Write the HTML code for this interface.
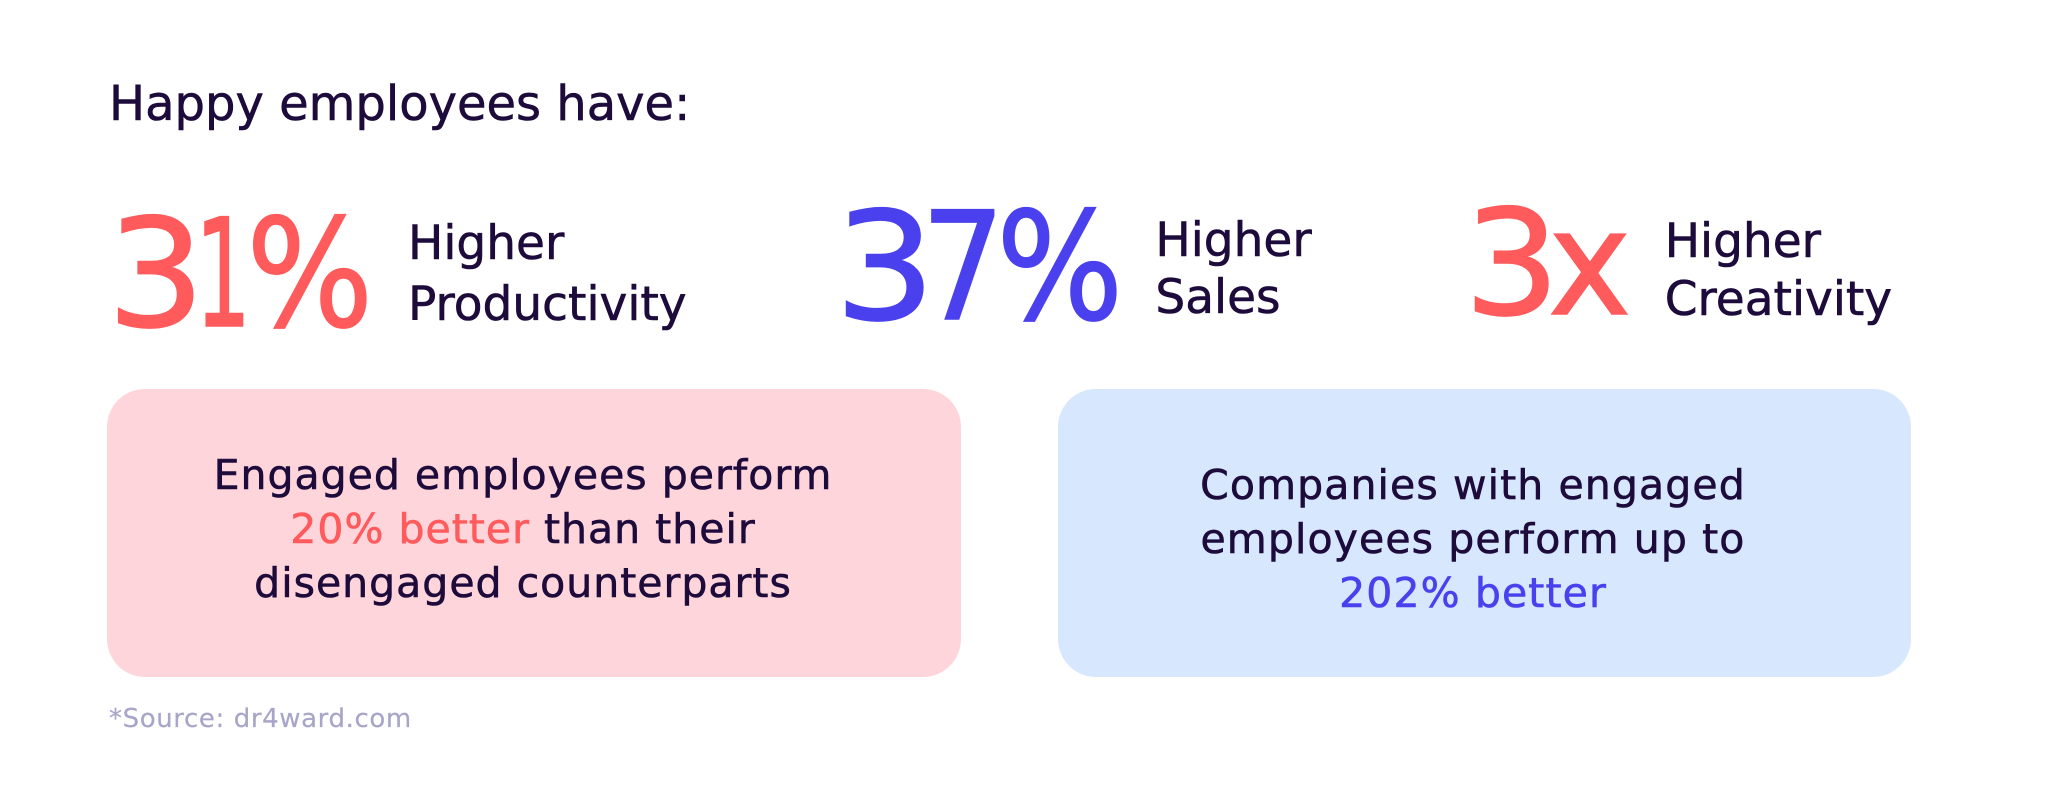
<!DOCTYPE html>
<html>
<head>
<meta charset="utf-8">
<style>
  html, body { margin: 0; padding: 0; }
  body { width: 2048px; height: 786px; background: #ffffff; position: relative; overflow: hidden; }
  .t { position: absolute; white-space: nowrap; color: #1d0b3b; font-family: "DejaVu Sans", "Liberation Sans", sans-serif; -webkit-text-stroke: 0.6px currentColor; }
  .red { color: #ff5a5c; }
  .blue { color: #4a40ee; }
  .box { position: absolute; border-radius: 38px; }
  .center { text-align: center; width: 1000px; }
  svg.big { position: absolute; left: 0; top: 0; }
  svg.big text { font-family: "DejaVu Sans", "Liberation Sans", sans-serif; }
</style>
</head>
<body>

<div class="t" style="left:109px; top:75px; font-size:48px; line-height:58px;">Happy employees have:</div>

<svg class="big" width="2048" height="786" viewBox="0 0 2048 786" xmlns="http://www.w3.org/2000/svg">
  <!-- 31% -->
  <g fill="#ff5a5c" stroke="#ff5a5c" stroke-width="1.5" font-size="150">
    <text x="107" y="326" textLength="98" lengthAdjust="spacingAndGlyphs">3</text>
    <text x="195" y="326" textLength="56" lengthAdjust="spacingAndGlyphs">1</text>
    <text x="246.3" y="326" textLength="127" lengthAdjust="spacingAndGlyphs">%</text>
  </g>
  <!-- 37% -->
  <g fill="#4a40ee" stroke="#4a40ee" stroke-width="1.5" font-size="150">
    <text x="834.5" y="319" textLength="101" lengthAdjust="spacingAndGlyphs">3</text>
    <text x="921" y="319" textLength="84" lengthAdjust="spacingAndGlyphs">7</text>
    <text x="996.3" y="319" textLength="127" lengthAdjust="spacingAndGlyphs">%</text>
  </g>
  <!-- 3x -->
  <g fill="#ff5a5c" stroke="#ff5a5c" stroke-width="1.5" font-size="146">
    <text x="1464" y="314" textLength="96" lengthAdjust="spacingAndGlyphs">3</text>
    <text x="1547.9" y="314" textLength="83.5" lengthAdjust="spacingAndGlyphs">x</text>
  </g>
</svg>

<div class="t" style="left:408px; top:213px; font-size:47px; line-height:61px;">Higher<br>Productivity</div>
<div class="t" style="left:1155.4px; top:211.5px; font-size:47px; line-height:57px;">Higher<br>Sales</div>
<div class="t" style="left:1664.7px; top:212.8px; font-size:47px; line-height:58.5px;">Higher<br>Creativity</div>

<!-- Boxes -->
<div class="box" style="left:107px; top:389px; width:854px; height:288px; background:#ffd5dc;"></div>
<div class="box" style="left:1058px; top:389px; width:853px; height:288px; background:#d6e7fe;"></div>

<div class="t center" style="left:23px; top:447.8px; font-size:41px; line-height:54px; letter-spacing:1px;">Engaged employees perform<br><span class="red">20% better</span> than their<br>disengaged counterparts</div>

<div class="t center" style="left:973px; top:458px; font-size:41px; line-height:54px; letter-spacing:1.1px;">Companies with engaged<br>employees perform up to<br><span class="blue">202% better</span></div>

<div class="t" style="left:109px; top:700px; font-size:26px; line-height:38px; letter-spacing:0.6px; color:#a8a5c9; -webkit-text-stroke:0.2px #a8a5c9;">*Source: dr4ward.com</div>

</body>
</html>
